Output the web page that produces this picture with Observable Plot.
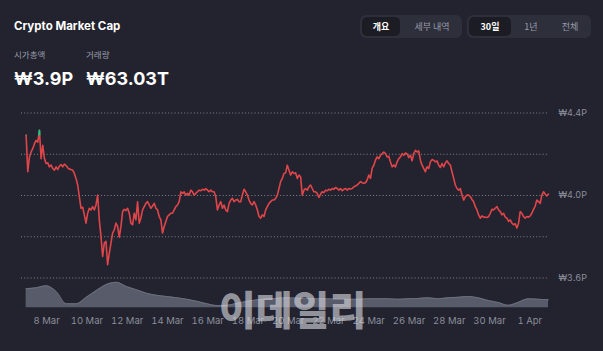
<!DOCTYPE html>
<html><head><meta charset="utf-8">
<script src="https://cdn.jsdelivr.net/npm/d3@7"></script>
<script src="https://cdn.jsdelivr.net/npm/@observablehq/plot@0.6"></script>
<style>
html,body{margin:0;padding:0;background:#22232e;}
#root{position:relative;width:603px;height:351px;overflow:hidden;background:#22232e;font-family:Inter,"Noto Sans CJK KR",sans-serif;}
.abs{position:absolute;line-height:1;white-space:nowrap;}
.title{left:14px;top:21px;font-size:11.5px;font-weight:700;color:#ffffff;}
.lbl{font-size:8.5px;color:#9a9cab;top:51px;}
.big{font-size:18px;font-weight:700;color:#ffffff;top:70px;}
.grp{position:absolute;top:15px;height:23px;background:#2d2f3b;border-radius:6px;}
.btn{position:absolute;top:2px;height:19px;border-radius:5px;display:flex;align-items:center;justify-content:center;font-size:9px;color:#9a9cab;font-family:"Noto Sans CJK KR",Inter,sans-serif;}
.sel{background:#1b1c24;color:#ffffff;font-weight:700;}
.svgwrap{position:absolute;left:0;top:0;}
.wm{position:absolute;left:219px;top:288px;font-size:40px;font-weight:900;color:rgba(222,222,228,0.62);font-family:"Noto Sans CJK KR",sans-serif;line-height:1;letter-spacing:0px;}
</style></head><body><div id="root">
<div class="abs title">Crypto Market Cap</div>
<div class="abs lbl" style="left:14px">시가총액</div>
<div class="abs lbl" style="left:86px">거래량</div>
<div class="abs big" style="left:14px">₩3.9P</div>
<div class="abs big" style="left:86px">₩63.03T</div>
<div class="grp" style="left:360px;width:102px">
  <div class="btn sel" style="left:2px;width:38px">개요</div>
  <div class="btn" style="left:44px;width:56px">세부 내역</div>
</div>
<div class="grp" style="left:467px;width:124px">
  <div class="btn sel" style="left:2px;width:42px">30일</div>
  <div class="btn" style="left:46px;width:36px">1년</div>
  <div class="btn" style="left:84px;width:38px">전체</div>
</div>
<div id="vol" class="svgwrap"></div>
<div id="main" class="svgwrap"></div>
<div class="wm">이데일리</div>
</div>
<script>
// Market cap, trillion KRW, sampled every 119 minutes
const capValues = [
4292,4115,4187,4211,4227,4251,4267,4259,4316,4179,4243,4179,4155,4158,4139,4147,4131,4123,4139,4126,4142,4150,4139,4152,4145,4134,4128,4126,4123,4107,4083,4051,3994,3938,3943,3906,3866,3914,3938,3930,3946,3930,3954,4002,3882,3802,3705,3769,3778,3665,3721,3769,3818,3834,3866,3850,3798,3850,3922,3933,3927,3938,3914,
3866,3858,3914,3882,3970,3866,3890,3930,3946,3962,3970,3954,3938,3949,3962,3938,3930,3898,3882,3818,3850,3874,3898,3906,3914,3914,3930,3946,3954,3970,4018,4010,4018,4002,4010,4002,4026,4018,4002,4010,4018,4026,4023,4030,4026,4034,4026,4018,4026,4018,4018,3994,3930,3954,3970,3938,3954,3930,3922,3962,3978,3986,3970,3978,3981,3970,
3970,4002,4030,4018,4002,3978,3962,3954,3970,3954,3930,3898,3890,3906,3898,3930,3946,3962,3970,3978,3978,3986,4002,4034,4067,4083,4107,4110,4147,4123,4099,4115,4107,4110,4083,4099,4091,4002,4026,4034,4026,4042,4051,4034,4018,4018,4010,3991,4007,4018,4014,4026,4023,4030,4026,4034,4030,4039,4034,4026,4034,4023,4030,4034,4026,4034,
4031,4034,4042,4046,4051,4059,4067,4062,4059,4062,4075,4099,4083,4131,4147,4171,4187,4179,4195,4203,4211,4203,4187,4190,4163,4139,4147,4139,4163,4179,4187,4203,4195,4206,4203,4184,4195,4168,4203,4219,4211,4216,4171,4147,4131,4115,4139,4131,4163,4174,4171,4163,4168,4147,4136,4155,4139,4158,4168,4155,4147,4115,4083,4051,4034,4026,
4034,4002,3978,3994,4002,4002,3994,3981,3970,3946,3930,3906,3890,3901,3895,3895,3893,3898,3914,3933,3930,3938,3946,3930,3922,3906,3914,3895,3890,3874,3882,3866,3858,3863,3842,3866,3922,3914,3898,3890,3898,3895,3901,3914,3933,3949,3978,3970,3962,4002,4018,4007,3998,4007
];
// Volume, trillion KRW (relative)
const volValues = [76,80,88,65,16,16,42,69,93,102,85,72,58,50,45,40,34,26,16,9,10,18,26,32,36,38,40,38,37,36,36,34,34,34,36,36,36,34,36,37,40,36,40,42,45,40,29,21,10,22,36,34,32];
const tickDates = ["2025-03-08","2025-03-10","2025-03-12","2025-03-14","2025-03-16","2025-03-18","2025-03-20","2025-03-22","2025-03-24","2025-03-26","2025-03-28","2025-03-30","2025-04-01"];
const tickLabels = ["8 Mar","10 Mar","12 Mar","14 Mar","16 Mar","18 Mar","20 Mar","22 Mar","24 Mar","26 Mar","28 Mar","30 Mar","1 Apr"];
const yTicks = [3600,4000,4400];
const yTickLabels = ["₩3.6P","₩4.0P","₩4.4P"];
const gridTicks = [3600,3800,4000,4200,4400];

const START = Date.UTC(2025,2,6,23,30);
const STEP = 119*60e3;
const cap = capValues.map((v,i)=>({date:new Date(START+i*STEP), value:v}));
const END = cap[cap.length-1].date;
const vol = volValues.map((v,i)=>({date:new Date(START + i*(END-START)/(volValues.length-1)), value:v}));
const xDomain = [new Date(Date.UTC(2025,2,6,18,0)), END];
const tickD = tickDates.map(d=>new Date(d+"T00:00:00Z"));
const font = 'Inter,"Noto Sans CJK KR",sans-serif';

const volPlot = Plot.plot({
  width:603, height:351, marginTop:282.3, marginBottom:43.7, marginLeft:21, marginRight:55,
  style:{background:"transparent", fontFamily:font, overflow:"visible"},
  x:{type:"utc", domain:xDomain, axis:null},
  y:{domain:[0,100], axis:null},
  marks:[
    Plot.areaY(vol, {x:"date", y:"value", fill:"#585b69", curve:"monotone-x"}),
    Plot.lineY(vol, {x:"date", y:"value", stroke:"#6c6f7d", strokeWidth:1, curve:"monotone-x"}),
    Plot.axisX(tickD, {tickSize:0, tickPadding:9, label:null, tickFormat:d=>tickLabels[tickD.findIndex(t=>+t===+d)], fill:"#8b8e9b", fontSize:9.5})
  ]
});
document.getElementById("vol").appendChild(volPlot);

const main = Plot.plot({
  width:603, height:351, marginTop:112.5, marginBottom:73.5, marginLeft:21, marginRight:55,
  style:{background:"transparent", fontFamily:font, overflow:"visible"},
  x:{type:"utc", domain:xDomain, axis:null},
  y:{domain:[3600,4400], axis:null},
  marks:[
    Plot.gridY(gridTicks, {stroke:"#80838f", strokeOpacity:1, strokeDasharray:"1,2.2", strokeWidth:1}),
    Plot.axisY(yTicks, {anchor:"right", tickSize:0, tickPadding:10, label:null, tickFormat:d=>yTickLabels[yTicks.indexOf(d)], fill:"#8b8e9b", fontSize:9}),
    Plot.lineY(cap, {x:"date", y:"value", stroke:"#e0454a", strokeWidth:1.6}),
    Plot.lineY(cap, {x:"date", y:"value", stroke:"#16c784", strokeWidth:1.6})
  ]
});
document.getElementById("main").appendChild(main);

// green where value is above the opening value
const baseY = main.scale("y").apply(capValues[0]);
const ns = "http://www.w3.org/2000/svg";
const defs = document.createElementNS(ns, "defs");
const cp = document.createElementNS(ns, "clipPath");
cp.setAttribute("id", "aboveBase");
const r = document.createElementNS(ns, "rect");
r.setAttribute("x", 0); r.setAttribute("y", 0);
r.setAttribute("width", 603); r.setAttribute("height", baseY);
cp.appendChild(r); defs.appendChild(cp); main.insertBefore(defs, main.firstChild);
const greens = main.querySelectorAll('[stroke="#16c784"]');
greens.forEach(g => g.setAttribute("clip-path", "url(#aboveBase)"));
</script>
</body></html>
